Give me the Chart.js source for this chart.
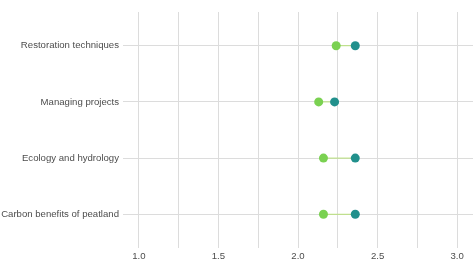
<!DOCTYPE html>
<html>
<head>
<meta charset="utf-8">
<script src="https://cdn.jsdelivr.net/npm/chart.js@4.4.1/dist/chart.umd.min.js"></script>
<style>
  html, body { margin: 0; padding: 0; background: #fff; }
  #wrap { width: 474px; height: 264px; }
</style>
</head>
<body>
<div id="wrap"><canvas id="chart"></canvas></div>
<script>
// Datos del gráfico
const CATEGORIES = [
  'Restoration techniques',
  'Managing projects',
  'Ecology and hydrology',
  'Carbon benefits of peatland'
];
const SERIES_A = [2.24, 2.13, 2.16, 2.16];   // verde claro
const SERIES_B = [2.36, 2.23, 2.36, 2.36];   // verde azulado
const X_TICKS = [1.0, 1.25, 1.5, 1.75, 2.0, 2.25, 2.5, 2.75, 3.0];
const X_LABELS = ['1.0', '1.5', '2.0', '2.5', '3.0'];

const COLOR_A = '#7ad151';
const COLOR_B = '#21908c';
const GRID = '#dcdcdc';
const TEXT = '#4d4d4d';
const FONT = { family: 'Liberation Sans, Arial, sans-serif', size: 9.6 };

// Segmento que une cada par de puntos
const connectors = {
  id: 'connectors',
  beforeDatasetsDraw(chart) {
    const { ctx, scales: { x, y } } = chart;
    ctx.save();
    ctx.strokeStyle = '#b8e07a';
    ctx.lineWidth = 1;
    CATEGORIES.forEach((_, i) => {
      const py = y.getPixelForValue(i);
      ctx.beginPath();
      ctx.moveTo(x.getPixelForValue(SERIES_A[i]), py);
      ctx.lineTo(x.getPixelForValue(SERIES_B[i]), py);
      ctx.stroke();
    });
    ctx.restore();
  }
};

const toPoints = arr => arr.map((v, i) => ({ x: v, y: i }));

new Chart(document.getElementById('chart'), {
  type: 'scatter',
  data: {
    datasets: [
      { label: 'A', data: toPoints(SERIES_A), backgroundColor: COLOR_A, borderWidth: 0, pointRadius: 4.5 },
      { label: 'B', data: toPoints(SERIES_B), backgroundColor: COLOR_B, borderWidth: 0, pointRadius: 4.5 }
    ]
  },
  plugins: [connectors],
  options: {
    responsive: true,
    maintainAspectRatio: false,
    animation: false,
    layout: { autoPadding: false, padding: { top: 12, right: 1, left: 0, bottom: 0 } },
    plugins: { legend: { display: false }, tooltip: { enabled: false } },
    scales: {
      x: {
        type: 'linear',
        min: 0.9,
        max: 3.1,
        afterBuildTicks: axis => { axis.ticks = X_TICKS.map(v => ({ value: v })); },
        afterFit: axis => { axis.height = 16; axis.paddingLeft = 0; axis.paddingRight = 0; },
        ticks: {
          autoSkip: false,
          maxRotation: 0,
          padding: 3,
          color: TEXT,
          font: FONT,
          callback: v => X_LABELS.includes(Number(v).toFixed(1)) && Math.abs(v * 2 - Math.round(v * 2)) < 1e-6 ? Number(v).toFixed(1) : ''
        },
        grid: { color: GRID, lineWidth: 1, drawTicks: false, tickLength: 0 },
        border: { display: false }
      },
      y: {
        type: 'linear',
        reverse: true,
        min: -0.6,
        max: 3.6,
        afterBuildTicks: axis => { axis.ticks = CATEGORIES.map((_, i) => ({ value: i })); },
        afterFit: axis => { axis.width = 123; },
        ticks: {
          autoSkip: false,
          padding: 4,
          color: TEXT,
          font: FONT,
          callback: v => CATEGORIES[v] || ''
        },
        grid: { color: GRID, lineWidth: 1, drawTicks: false },
        border: { display: false }
      }
    }
  }
});
</script>
</body>
</html>
